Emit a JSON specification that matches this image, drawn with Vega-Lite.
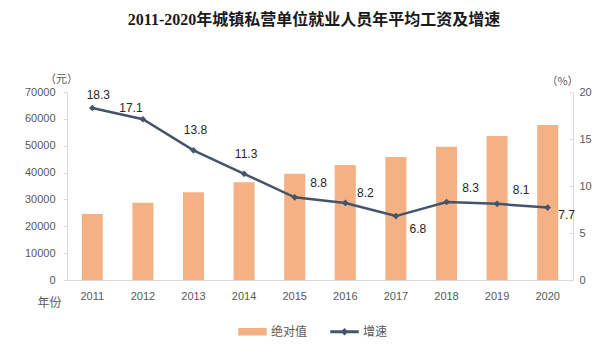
{
  "$schema": "https://vega.github.io/schema/vega-lite/v6.json",
  "width": 506,
  "height": 188,
  "autosize": {"type": "none"},
  "padding": {"left": 67, "top": 92, "right": 41, "bottom": 76},
  "background": "white",
  "config": {"view": {"stroke": null}, "font": "Liberation Sans, Noto Sans CJK SC"},
  "title": {
    "text": "2011-2020年城镇私营单位就业人员年平均工资及增速",
    "font": "Liberation Serif, Noto Sans CJK SC",
    "fontSize": 16,
    "fontWeight": "bold",
    "color": "#1a1a1a",
    "anchor": "middle",
    "offset": 45,
    "dx": -6
  },
  "data": {
    "values": [
      {"year": "2011", "wage": 24556, "rate": 18.3},
      {"year": "2012", "wage": 28752, "rate": 17.1},
      {"year": "2013", "wage": 32706, "rate": 13.8},
      {"year": "2014", "wage": 36390, "rate": 11.3},
      {"year": "2015", "wage": 39589, "rate": 8.8},
      {"year": "2016", "wage": 42833, "rate": 8.2},
      {"year": "2017", "wage": 45761, "rate": 6.8},
      {"year": "2018", "wage": 49575, "rate": 8.3},
      {"year": "2019", "wage": 53604, "rate": 8.1},
      {"year": "2020", "wage": 57727, "rate": 7.7}
    ]
  },
  "encoding": {
    "x": {
      "field": "year", "type": "ordinal",
      "axis": {
        "title": "年份", "titleX": -18, "titleY": 22, "titleAlign": "center", "titleBaseline": "middle",
        "titleFont": "Noto Sans CJK SC", "titleFontSize": 12, "titleFontWeight": "normal", "titleColor": "#595959",
        "labelAngle": 0, "labelFontSize": 11, "labelColor": "#595959", "labelPadding": 10,
        "ticks": false, "tickSize": 0, "domainColor": "#d9d9d9", "grid": false
      }
    }
  },
  "layer": [
    {
      "mark": {"type": "bar", "size": 21, "color": "#F4B183"},
      "encoding": {
        "y": {
          "field": "wage", "type": "quantitative",
          "scale": {"domain": [0, 70000]},
          "axis": {
            "orient": "left", "values": [0, 10000, 20000, 30000, 40000, 50000, 60000, 70000], "format": "d",
            "grid": false, "domainColor": "#d9d9d9", "tickColor": "#d9d9d9", "tickSize": 4,
            "labelFontSize": 11, "labelColor": "#595959", "labelPadding": 8,
            "title": "（元）", "titleAngle": 0, "titleX": -6, "titleY": -13, "titleAlign": "center", "titleBaseline": "middle",
            "titleFont": "Noto Sans CJK SC", "titleFontSize": 11, "titleFontWeight": "normal", "titleColor": "#595959"
          }
        },
        "color": {
          "datum": "绝对值",
          "scale": {"domain": ["绝对值", "增速"], "range": ["#F4B183", "#44546A"]},
          "legend": {
            "orient": "none", "legendX": 171, "legendY": 225, "direction": "horizontal", "title": null,
            "symbolSize": 729, "labelFont": "Noto Sans CJK SC", "labelFontSize": 12, "labelColor": "#595959",
            "labelOffset": 4, "columnPadding": 20,
            "encode": {
              "symbols": {
                "update": {
                  "shape": {"signal": "datum.value === '增速' ? 'M-1,-0.06H1V0.06H-1Z M0,-0.2L0.2,0L0,0.2L-0.2,0Z' : 'M-1,-0.22H1V0.22H-1Z'"},
                  "fill": {"signal": "datum.value === '增速' ? '#44546A' : '#F4B183'"},
                  "stroke": {"value": "transparent"},
                  "opacity": {"value": 1},
                  "fillOpacity": {"value": 1}
                }
              }
            }
          }
        }
      }
    },
    {
      "encoding": {
        "y": {
          "field": "rate", "type": "quantitative",
          "scale": {"domain": [0, 20]},
          "axis": {
            "orient": "right", "values": [0, 5, 10, 15, 20],
            "grid": false, "domainColor": "#d9d9d9", "tickColor": "#d9d9d9", "tickSize": -4,
            "labelFontSize": 11, "labelColor": "#595959", "labelPadding": 10,
            "title": "（%）", "titleAngle": 0, "titleX": -11, "titleY": -11, "titleAlign": "center", "titleBaseline": "middle",
            "titleFont": "Noto Sans CJK SC", "titleFontSize": 11, "titleFontWeight": "normal", "titleColor": "#595959"
          }
        }
      },
      "layer": [
        {
          "mark": {"type": "line", "color": "#44546A", "strokeWidth": 2.5},
          "encoding": {"color": {"datum": "增速"}}
        },
        {
          "mark": {"type": "point", "shape": "diamond", "filled": true, "size": 45, "color": "#44546A", "opacity": 1}
        },
        {
          "transform": [{"filter": "datum.year === '2011'"}],
          "mark": {"type": "text", "dx": 6, "dy": -13, "fontSize": 12, "color": "#262626"},
          "encoding": {"text": {"field": "rate", "format": ".1f"}}
        },
        {
          "transform": [{"filter": "datum.year === '2012'"}],
          "mark": {"type": "text", "dx": -12, "dy": -11, "fontSize": 12, "color": "#262626"},
          "encoding": {"text": {"field": "rate", "format": ".1f"}}
        },
        {
          "transform": [{"filter": "datum.year === '2013' || datum.year === '2014'"}],
          "mark": {"type": "text", "dx": 2, "dy": -20, "fontSize": 12, "color": "#262626"},
          "encoding": {"text": {"field": "rate", "format": ".1f"}}
        },
        {
          "transform": [{"filter": "datum.year === '2015' || datum.year === '2018' || datum.year === '2019'"}],
          "mark": {"type": "text", "dx": 24, "dy": -14, "fontSize": 12, "color": "#262626"},
          "encoding": {"text": {"field": "rate", "format": ".1f"}}
        },
        {
          "transform": [{"filter": "datum.year === '2016'"}],
          "mark": {"type": "text", "dx": 20, "dy": -10, "fontSize": 12, "color": "#262626"},
          "encoding": {"text": {"field": "rate", "format": ".1f"}}
        },
        {
          "transform": [{"filter": "datum.year === '2017'"}],
          "mark": {"type": "text", "dx": 22, "dy": 13, "fontSize": 12, "color": "#262626"},
          "encoding": {"text": {"field": "rate", "format": ".1f"}}
        },
        {
          "transform": [{"filter": "datum.year === '2020'"}],
          "mark": {"type": "text", "dx": 19, "dy": 7, "fontSize": 12, "color": "#262626"},
          "encoding": {"text": {"field": "rate", "format": ".1f"}}
        }
      ]
    }
  ],
  "resolve": {"scale": {"y": "independent"}}
}
